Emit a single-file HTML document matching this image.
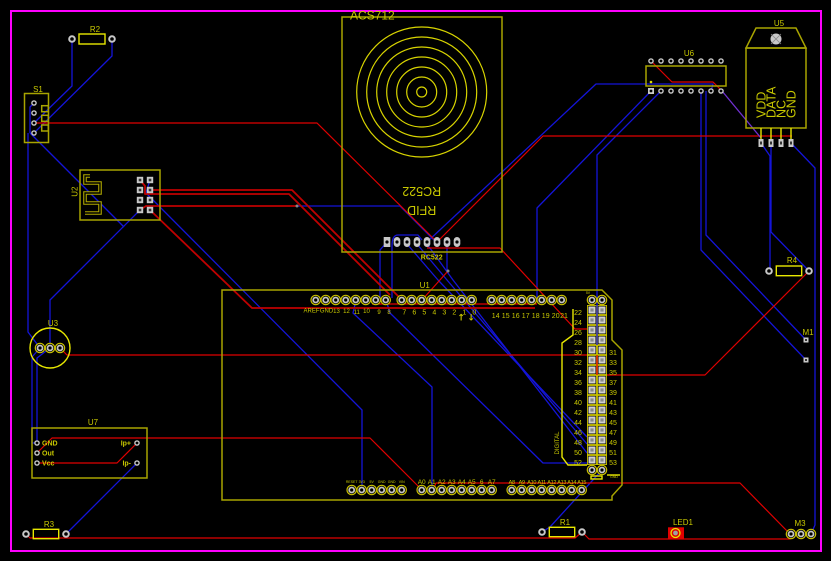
<!DOCTYPE html>
<html><head><meta charset="utf-8">
<style>
html,body{margin:0;padding:0;background:#000;}
svg{display:block;}
text{font-family:"Liberation Sans",sans-serif;fill:#c8c800;}
</style></head><body>
<svg width="831" height="561" viewBox="0 0 831 561" xmlns="http://www.w3.org/2000/svg">
<defs>
<g id="hp"><circle r="5.3" fill="#c8c000"/><circle r="4.1" fill="#000"/><circle r="3.4" fill="#c4c4c4"/><circle r="1.6" fill="#000"/></g>
<g id="sq"><rect x="-5" y="-5" width="10" height="10" fill="#c8c000"/><rect x="-4.1" y="-4.1" width="8.2" height="8.2" fill="#000"/><rect x="-3.5" y="-3.5" width="7" height="7" fill="#d0d0d0"/><rect x="-1.6" y="-1.6" width="3.2" height="3.2" fill="#8a8a8a"/></g>
<g id="rp"><circle r="3.8" fill="#c8c8c8"/><circle r="1.8" fill="#000"/></g>
<g id="sp"><circle r="2.8" fill="#c8c8c8"/><circle r="1.4" fill="#000"/></g>
<g id="u2p"><rect x="-3.2" y="-3.2" width="6.4" height="6.4" fill="#c8c8c8"/><rect x="-1.3" y="-1.3" width="2.6" height="2.6" fill="#333"/></g>
<g id="ov"><rect x="-3.3" y="-5" width="6.6" height="10" rx="3.3" fill="#c8c8c8"/><circle r="1.6" fill="#000"/></g>
</defs>
<rect width="831" height="561" fill="#000"/>

<!-- BLUE TRACES -->
<g fill="none" stroke="#1414d8" stroke-width="1.3" stroke-linejoin="round">
<path d="M72,39 V86 L34,123"/>
<path d="M112,39 V56 L34,133"/>
<path d="M34,103 L30,107 V133"/>
<path d="M28,133 V332 L40,348"/>
<path d="M30,133 L124,227"/>
<path d="M140,210 L50,300 V348"/>
<path d="M150,180 L146,193 L362,410 V490"/>
<path d="M297,206 H400 L434,240"/>
<path d="M427,242 L596,84 H713 L711,91"/>
<path d="M651,91 L537,208 V300"/>
<path d="M661,91 L597,155 V345"/>
<path d="M701,91 V250 L806,360"/>
<path d="M706,91 V235 L806,340"/>
<path d="M761,143 L770,156 V271"/>
<path d="M771,143 V232 L809,271"/>
<path d="M791,143 L815,168 V525 L811,534"/>
<path d="M602,470 L550,527 L542,532"/>
<path d="M137,463 L66,534"/>
<path d="M40,348 L32,357 V443 H37"/>
<path d="M50,348 L37,358 V443"/>
<path d="M387,242 L380,250 V298"/>
<path d="M392,298 V246 Q392,235 398,235 H418 L422,240"/>
<path d="M407,244 L438,280 L587,437"/>
<path d="M417,244 L447,280 L587,444"/>
<path d="M427,244 L453,280 L587,453"/>
<path d="M386,300 L390,313 L543,463 H587"/>
<path d="M356,300 L353,313 L432,387 V490"/>
<path d="M447,242 V271"/>
</g>

<!-- RED TRACES -->
<g fill="none" stroke="#e00000" stroke-width="1.2" stroke-linejoin="round">
<path d="M34,123 H317 L437,242"/>
<path d="M437,242 L543,136 H792"/>
<path d="M427,248 H500 L575,329 H590"/>
<path d="M60,348 L67,355 H587 L592,350"/>
<path d="M37,453 L52,438 H370 L421,489"/>
<path d="M37,463 H117 L137,443"/>
<path d="M26,534 L30,538 H575 L582,532"/>
<path d="M582,532 L589,539 H790 L791,534"/>
<path d="M433,490 L436,483 H740 L790,534"/>
<path d="M809,271 L705,375 H607 L602,370"/>
<path d="M651,61 L672,82 H713 L722,91"/>
<path d="M448,271 L422,300"/>
<path d="M372,304 H537"/>
</g>
<path d="M722,91 L761,138" stroke="#7030d0" stroke-width="1.3" fill="none"/>
<g fill="none" stroke="#c00000" stroke-width="1.8" stroke-linejoin="round">
<path d="M140,180 L145,186 V194 H289 L390,295"/>
<path d="M150,190 H292 L400,298"/>
<path d="M140,210 L146,206 H297"/>
<path d="M150,210 L252,308 H535"/>
</g>
<circle cx="297" cy="206" r="1.5" fill="#888"/>
<circle cx="448" cy="271" r="1.5" fill="#888"/>

<!-- BORDER -->
<rect x="11" y="11" width="810" height="540" fill="none" stroke="#ff00ff" stroke-width="2"/>

<!-- SILKSCREEN -->
<g fill="none" stroke="#a8a400" stroke-width="1.5">
<rect x="24.5" y="93.5" width="24" height="49"/>
<rect x="80" y="170" width="80" height="50"/>
<rect x="342" y="17" width="160" height="235"/>
<rect x="646" y="66" width="80" height="20"/>
<path d="M756,28 H796 L806,48 H746 Z"/>
<rect x="746" y="48" width="60" height="80"/>
<path d="M222,290 H602 L612,300 V340 L622,350 V485 L612,496 V500 H222 Z"/>
<rect x="32" y="428" width="115" height="50"/>
<rect x="41.7" y="105.7" width="6.6" height="6"/>
<rect x="41.7" y="115.3" width="6.6" height="6"/>
<rect x="41.7" y="125" width="6.6" height="6"/>
</g>
<path d="M90,176 H85 V183 H100 V193 H85 V203 H100 V213 H85" fill="none" stroke="#b0a800" stroke-width="3.6"/>
<path d="M90,176 H85 V183 H100 V193 H85 V203 H100 V213 H85" fill="none" stroke="#000" stroke-width="1.4"/>
<g fill="none" stroke="#d8d400" stroke-width="1.2">
<circle cx="421.7" cy="92" r="5"/>
<circle cx="421.7" cy="92" r="15"/>
<circle cx="421.7" cy="92" r="25"/>
<circle cx="421.7" cy="92" r="35"/>
<circle cx="421.7" cy="92" r="45"/>
<circle cx="421.7" cy="92" r="55"/>
<circle cx="421.7" cy="92" r="65"/>
</g>
<g fill="none" stroke="#e8e800" stroke-width="1.4">
<rect x="79" y="34" width="26" height="10"/>
<rect x="33.3" y="529.3" width="25.4" height="9.4"/>
<rect x="549.3" y="527.3" width="25.4" height="9.4"/>
<rect x="776.3" y="266" width="25.4" height="9.7"/>
<circle cx="50" cy="348" r="20"/>
<path d="M573,309 V335 L562,343 V457 L568,465 H587"/>
<path d="M607,475 H620"/>
<rect x="591" y="476" width="11" height="3"/>
<line x1="761" y1="128" x2="761" y2="139"/>
<line x1="771" y1="128" x2="771" y2="139"/>
<line x1="781" y1="128" x2="781" y2="139"/>
<line x1="791" y1="128" x2="791" y2="139"/>
</g>
<circle cx="776" cy="39" r="5.5" fill="#c8c8c8"/>
<path d="M771,34 L781,44 M781,34 L771,44" stroke="#888" stroke-width="0.8"/>
<circle cx="651" cy="82" r="1.3" fill="#e0e000"/>

<!-- LED1 -->
<rect x="668" y="527.3" width="16" height="11.4" fill="#e00000"/>
<circle cx="675.5" cy="533" r="4.5" fill="none" stroke="#e8e800" stroke-width="1.3"/>
<circle cx="675.5" cy="533" r="2.4" fill="#a0a0a0"/>

<!-- PADS -->
<use href="#rp" x="72" y="39"/><use href="#rp" x="112" y="39"/>
<use href="#rp" x="26" y="534"/><use href="#rp" x="66" y="534"/>
<use href="#rp" x="542" y="532"/><use href="#rp" x="582" y="532"/>
<use href="#rp" x="769" y="271"/><use href="#rp" x="809" y="271"/>
<use href="#sp" x="34" y="103"/><use href="#sp" x="34" y="113"/><use href="#sp" x="34" y="123"/><use href="#sp" x="34" y="133"/>
<use href="#sp" x="37" y="443"/><use href="#sp" x="37" y="453"/><use href="#sp" x="37" y="463"/>
<use href="#sp" x="137" y="443"/><use href="#sp" x="137" y="463"/>
<g>
<use href="#sp" x="651" y="61"/><use href="#sp" x="661" y="61"/><use href="#sp" x="671" y="61"/><use href="#sp" x="681" y="61"/><use href="#sp" x="691" y="61"/><use href="#sp" x="701" y="61"/><use href="#sp" x="711" y="61"/><use href="#sp" x="721" y="61"/>
<rect x="648" y="88" width="6" height="6" fill="#c8c8c8"/><circle cx="651" cy="91" r="1.4" fill="#000"/>
<use href="#sp" x="661" y="91"/><use href="#sp" x="671" y="91"/><use href="#sp" x="681" y="91"/><use href="#sp" x="691" y="91"/><use href="#sp" x="701" y="91"/><use href="#sp" x="711" y="91"/><use href="#sp" x="721" y="91"/>
</g>
<use href="#u2p" x="140" y="180"/><use href="#u2p" x="150" y="180"/>
<use href="#u2p" x="140" y="190"/><use href="#u2p" x="150" y="190"/>
<use href="#u2p" x="140" y="200"/><use href="#u2p" x="150" y="200"/>
<use href="#u2p" x="140" y="210"/><use href="#u2p" x="150" y="210"/>
<rect x="383.7" y="237" width="6.6" height="10" fill="#c8c8c8"/><circle cx="387" cy="242" r="1.6" fill="#000"/>
<use href="#ov" x="397" y="242"/><use href="#ov" x="407" y="242"/><use href="#ov" x="417" y="242"/><use href="#ov" x="427" y="242"/><use href="#ov" x="437" y="242"/><use href="#ov" x="447" y="242"/><use href="#ov" x="457" y="242"/>
<g fill="#c8c8c8">
<rect x="758.5" y="139" width="5" height="8"/><rect x="768.5" y="139" width="5" height="8"/><rect x="778.5" y="139" width="5" height="8"/><rect x="788.5" y="139" width="5" height="8"/>
<rect x="803.5" y="337.5" width="5" height="5"/><rect x="803.5" y="357.5" width="5" height="5"/>
</g>
<g fill="#333"><rect x="760" y="141.5" width="2" height="3"/><rect x="770" y="141.5" width="2" height="3"/><rect x="780" y="141.5" width="2" height="3"/><rect x="790" y="141.5" width="2" height="3"/><rect x="805" y="339" width="2" height="2"/><rect x="805" y="359" width="2" height="2"/></g>

<!-- U3 / M3 pads -->
<use href="#hp" x="40" y="348"/><use href="#hp" x="50" y="348"/><use href="#hp" x="60" y="348"/>
<use href="#hp" x="791" y="534"/><use href="#hp" x="801" y="534"/><use href="#hp" x="811" y="534"/>

<!-- U1 top headers -->
<use href="#hp" x="315.7" y="300"/><use href="#hp" x="325.7" y="300"/><use href="#hp" x="335.7" y="300"/><use href="#hp" x="345.7" y="300"/><use href="#hp" x="355.7" y="300"/><use href="#hp" x="365.7" y="300"/><use href="#hp" x="375.7" y="300"/><use href="#hp" x="385.7" y="300"/>
<use href="#hp" x="401.7" y="300"/><use href="#hp" x="411.7" y="300"/><use href="#hp" x="421.7" y="300"/><use href="#hp" x="431.7" y="300"/><use href="#hp" x="441.7" y="300"/><use href="#hp" x="451.7" y="300"/><use href="#hp" x="461.7" y="300"/><use href="#hp" x="471.7" y="300"/>
<use href="#hp" x="491.7" y="300"/><use href="#hp" x="501.7" y="300"/><use href="#hp" x="511.7" y="300"/><use href="#hp" x="521.7" y="300"/><use href="#hp" x="531.7" y="300"/><use href="#hp" x="541.7" y="300"/><use href="#hp" x="551.7" y="300"/><use href="#hp" x="561.7" y="300"/>
<!-- U1 bottom headers -->
<use href="#hp" x="351.7" y="490"/><use href="#hp" x="361.7" y="490"/><use href="#hp" x="371.7" y="490"/><use href="#hp" x="381.7" y="490"/><use href="#hp" x="391.7" y="490"/><use href="#hp" x="401.7" y="490"/>
<use href="#hp" x="421.7" y="490"/><use href="#hp" x="431.7" y="490"/><use href="#hp" x="441.7" y="490"/><use href="#hp" x="451.7" y="490"/><use href="#hp" x="461.7" y="490"/><use href="#hp" x="471.7" y="490"/><use href="#hp" x="481.7" y="490"/><use href="#hp" x="491.7" y="490"/>
<use href="#hp" x="511.7" y="490"/><use href="#hp" x="521.7" y="490"/><use href="#hp" x="531.7" y="490"/><use href="#hp" x="541.7" y="490"/><use href="#hp" x="551.7" y="490"/><use href="#hp" x="561.7" y="490"/><use href="#hp" x="571.7" y="490"/><use href="#hp" x="581.7" y="490"/>
<!-- Double header -->
<use href="#hp" x="592" y="300"/><use href="#hp" x="602" y="300"/>
<use href="#sq" x="592" y="310"/><use href="#sq" x="602" y="310"/>
<use href="#sq" x="592" y="320"/><use href="#sq" x="602" y="320"/>
<use href="#sq" x="592" y="330"/><use href="#sq" x="602" y="330"/>
<use href="#sq" x="592" y="340"/><use href="#sq" x="602" y="340"/>
<use href="#sq" x="592" y="350"/><use href="#sq" x="602" y="350"/>
<use href="#sq" x="592" y="360"/><use href="#sq" x="602" y="360"/>
<use href="#sq" x="592" y="370"/><use href="#sq" x="602" y="370"/>
<use href="#sq" x="592" y="380"/><use href="#sq" x="602" y="380"/>
<use href="#sq" x="592" y="390"/><use href="#sq" x="602" y="390"/>
<use href="#sq" x="592" y="400"/><use href="#sq" x="602" y="400"/>
<use href="#sq" x="592" y="410"/><use href="#sq" x="602" y="410"/>
<use href="#sq" x="592" y="420"/><use href="#sq" x="602" y="420"/>
<use href="#sq" x="592" y="430"/><use href="#sq" x="602" y="430"/>
<use href="#sq" x="592" y="440"/><use href="#sq" x="602" y="440"/>
<use href="#sq" x="592" y="450"/><use href="#sq" x="602" y="450"/>
<use href="#sq" x="592" y="460"/><use href="#sq" x="602" y="460"/>
<use href="#hp" x="592" y="470"/><use href="#hp" x="602" y="470"/>
<g stroke="#1414d8" stroke-width="1.3"><line x1="597" y1="305" x2="597" y2="345"/></g>
<g stroke="#e00000" stroke-width="1.3"><line x1="597" y1="355" x2="597" y2="375"/></g>

<!-- TEXT -->
<g font-size="8" text-anchor="middle">
<text x="95" y="32">R2</text>
<text x="38" y="92">S1</text>
<text x="53" y="326">U3</text>
<text x="93" y="425">U7</text>
<text x="49" y="527">R3</text>
<text x="565" y="525">R1</text>
<text x="683" y="525">LED1</text>
<text x="800" y="526">M3</text>
<text x="808" y="335">M1</text>
<text x="792" y="263">R4</text>
<text x="689" y="56">U6</text>
<text x="779" y="26">U5</text>
<text x="424.7" y="288">U1</text>
<text transform="translate(74.7,191.7) rotate(-90)" y="3">U2</text>
</g>
<text x="350" y="19.5" font-size="12">ACS712</text>
<text transform="translate(421.7,191.7) rotate(180)" text-anchor="middle" y="4.5" font-size="12.5">RC522</text>
<text transform="translate(421.7,210.7) rotate(180)" text-anchor="middle" y="4.5" font-size="12.5">RFID</text>
<text x="431.7" y="259.5" font-size="7" font-weight="bold" text-anchor="middle">RC522</text>
<g font-size="12.5">
<text transform="translate(761,118) rotate(-90)" y="4.5">VDD</text>
<text transform="translate(771,118) rotate(-90)" y="4.5">DATA</text>
<text transform="translate(781,118) rotate(-90)" y="4.5">NC</text>
<text transform="translate(791,118) rotate(-90)" y="4.5">GND</text>
</g>
<g font-size="7" font-weight="bold">
<text x="42" y="445.5">GND</text>
<text x="42" y="455.5">Out</text>
<text x="42" y="465.5">Vcc</text>
<text x="131" y="445.5" text-anchor="end">Ip+</text>
<text x="131" y="465.5" text-anchor="end">Ip-</text>
</g>
<g font-size="6" text-anchor="middle">
<text x="311.5" y="312.5">AREF</text>
<text x="326.5" y="312.5">GND</text>
<text x="336.5" y="313">13</text>
<text x="346.5" y="313">12</text>
<text x="356.7" y="314">11</text>
<text x="366.5" y="313">10</text>
<text x="379" y="314">9</text>
<text x="389" y="314">8</text>
</g>
<g font-size="7" text-anchor="middle">
<text x="404.3" y="314.5">7</text><text x="414.3" y="314.5">6</text><text x="424.3" y="314.5">5</text><text x="434.3" y="314.5">4</text><text x="444.3" y="314.5">3</text><text x="454.3" y="314.5">2</text><text x="464.3" y="314.5">1</text><text x="474.3" y="314.5">0</text>
<text x="495.7" y="318">14</text><text x="505.7" y="318">15</text><text x="515.7" y="318">16</text><text x="525.7" y="318">17</text><text x="535.7" y="318">18</text><text x="545.7" y="318">19</text><text x="555.7" y="318">20</text><text x="564" y="318">21</text>
</g>
<g font-size="9" font-weight="bold" text-anchor="middle" style="font-family:'DejaVu Sans',sans-serif">
<text x="461" y="320.5" style="font-family:'DejaVu Sans',sans-serif">↑</text>
<text x="471" y="320.5" style="font-family:'DejaVu Sans',sans-serif">↓</text>
</g>
<g font-size="7" text-anchor="middle">
<text x="578" y="315">22</text><text x="578" y="325">24</text><text x="578" y="335">26</text><text x="578" y="345">28</text><text x="578" y="355">30</text><text x="578" y="365">32</text><text x="578" y="375">34</text><text x="578" y="385">36</text><text x="578" y="395">38</text><text x="578" y="405">40</text><text x="578" y="415">42</text><text x="578" y="425">44</text><text x="578" y="435">46</text><text x="578" y="445">48</text><text x="578" y="455">50</text><text x="578" y="465">52</text>
<text x="613" y="355">31</text><text x="613" y="365">33</text><text x="613" y="375">35</text><text x="613" y="385">37</text><text x="613" y="395">39</text><text x="613" y="405">41</text><text x="613" y="415">43</text><text x="613" y="425">45</text><text x="613" y="435">47</text><text x="613" y="445">49</text><text x="613" y="455">51</text><text x="613" y="465">53</text>
</g>
<text transform="translate(559,443) rotate(-90)" text-anchor="middle" font-size="6">DIGITAL</text>
<g font-size="6.5" text-anchor="middle">
<text x="421.7" y="484">A0</text><text x="431.7" y="484">A1</text><text x="441.7" y="484">A2</text><text x="451.7" y="484">A3</text><text x="461.7" y="484">A4</text><text x="471.7" y="484">A5</text><text x="481.7" y="484">6</text><text x="491.7" y="484">A7</text>
</g>
<g font-size="5.5" text-anchor="middle" letter-spacing="-0.3">
<text x="511.7" y="484">A8</text><text x="521.7" y="484">A9</text><text x="531.7" y="484">A10</text><text x="541.7" y="484">A11</text><text x="551.7" y="484">A12</text><text x="561.7" y="484">A13</text><text x="571.7" y="484">A14</text><text x="581.7" y="484">A15</text>
</g>
<g font-size="3.5" text-anchor="middle">
<text x="351.7" y="483">RESET</text><text x="361.7" y="483">3V3</text><text x="371.7" y="483">5V</text><text x="381.7" y="483">GND</text><text x="391.7" y="483">GND</text><text x="401.7" y="483">VIN</text>
<text x="588" y="294">5V</text><text x="614" y="478">GND</text>
</g>
</svg>
</body></html>
